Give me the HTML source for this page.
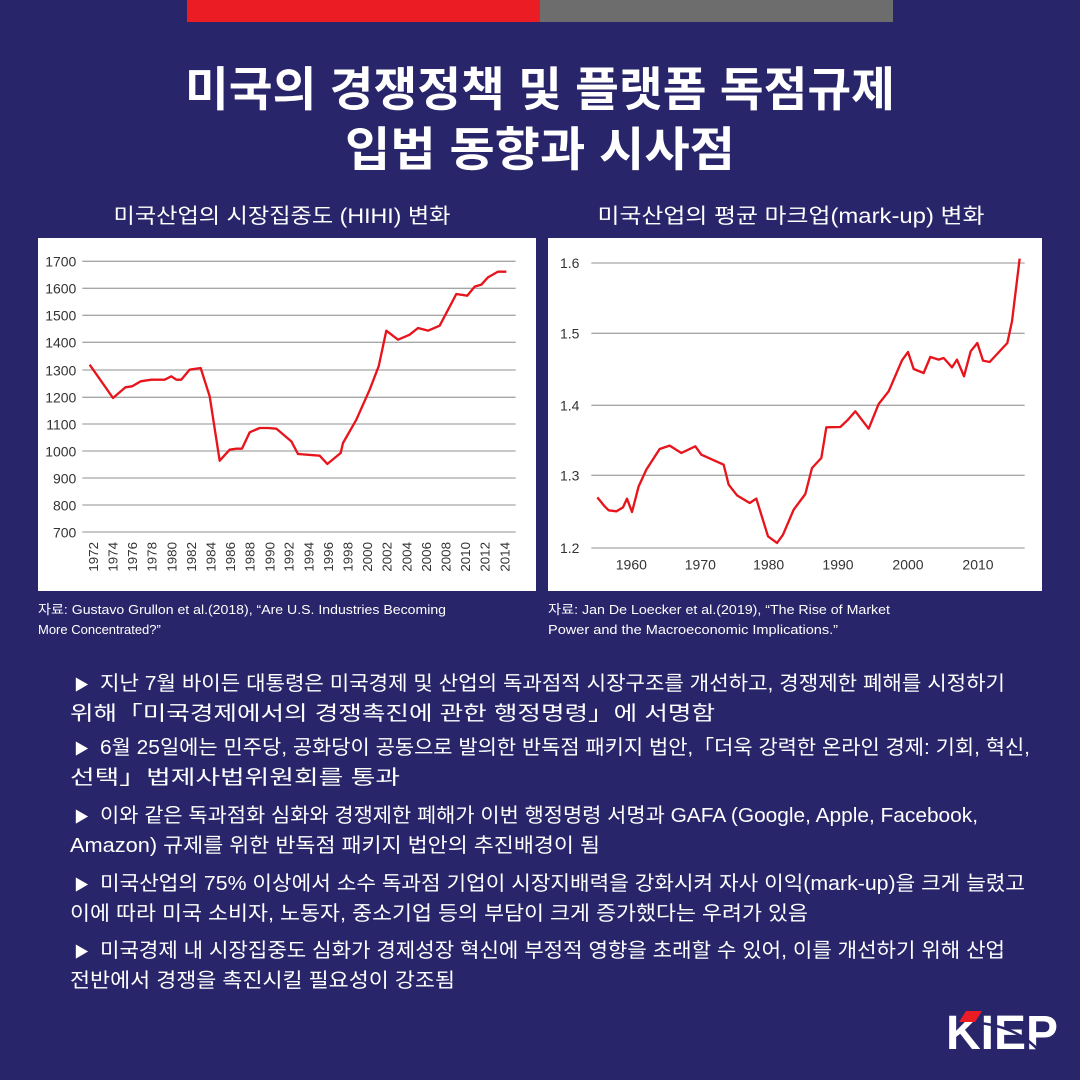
<!DOCTYPE html>
<html><head><meta charset="utf-8"><style>
html,body{margin:0;padding:0;background:#29256a;}
svg{display:block}
text{font-family:"Liberation Sans","Noto Sans CJK KR",sans-serif;}
</style></head><body>
<svg width="1080" height="1080" viewBox="0 0 1080 1080" xmlns="http://www.w3.org/2000/svg">
<rect width="1080" height="1080" fill="#29256a"/>
<rect x="187" y="0" width="353" height="22" fill="#ec1c24"/>
<rect x="540" y="0" width="353" height="22" fill="#6d6d6d"/>
<text x="540" y="106" font-size="47" font-weight="bold" fill="#fff" text-anchor="middle" textLength="710" lengthAdjust="spacingAndGlyphs">미국의 경쟁정책 및 플랫폼 독점규제</text>
<text x="540" y="166" font-size="47" font-weight="bold" fill="#fff" text-anchor="middle" textLength="390" lengthAdjust="spacingAndGlyphs">입법 동향과 시사점</text>
<text x="282" y="223" font-size="21" fill="#fff" text-anchor="middle" textLength="337" lengthAdjust="spacingAndGlyphs">미국산업의 시장집중도 (HIHI) 변화</text>
<text x="791" y="223" font-size="21" fill="#fff" text-anchor="middle" textLength="387" lengthAdjust="spacingAndGlyphs">미국산업의 평균 마크업(mark-up) 변화</text>

<!-- left chart -->
<rect x="38" y="238" width="498" height="353" fill="#fff"/>
<g transform="translate(38,238) scale(0.33333)">
<g stroke="#a6a6a6" stroke-width="4">
<line x1="133" y1="70" x2="1433" y2="70"/><line x1="133" y1="151" x2="1433" y2="151"/><line x1="133" y1="232" x2="1433" y2="232"/><line x1="133" y1="313" x2="1433" y2="313"/><line x1="133" y1="396" x2="1433" y2="396"/><line x1="133" y1="478" x2="1433" y2="478"/><line x1="133" y1="558" x2="1433" y2="558"/><line x1="133" y1="639" x2="1433" y2="639"/><line x1="133" y1="720" x2="1433" y2="720"/><line x1="133" y1="801" x2="1433" y2="801"/><line x1="133" y1="882" x2="1433" y2="882"/>
</g>
<g font-size="42" fill="#333" text-anchor="end">
<text x="115" y="86">1700</text><text x="115" y="167">1600</text><text x="115" y="248">1500</text><text x="115" y="329">1400</text><text x="115" y="412">1300</text><text x="115" y="494">1200</text><text x="115" y="574">1100</text><text x="115" y="655">1000</text><text x="115" y="736">900</text><text x="115" y="817">800</text><text x="115" y="898">700</text>
</g>
<g font-size="40" fill="#333" text-anchor="end">
<text transform="translate(180,912) rotate(-90)">1972</text>
<text transform="translate(239,912) rotate(-90)">1974</text>
<text transform="translate(297,912) rotate(-90)">1976</text>
<text transform="translate(356,912) rotate(-90)">1978</text>
<text transform="translate(415,912) rotate(-90)">1980</text>
<text transform="translate(474,912) rotate(-90)">1982</text>
<text transform="translate(532,912) rotate(-90)">1984</text>
<text transform="translate(591,912) rotate(-90)">1986</text>
<text transform="translate(650,912) rotate(-90)">1988</text>
<text transform="translate(709,912) rotate(-90)">1990</text>
<text transform="translate(767,912) rotate(-90)">1992</text>
<text transform="translate(826,912) rotate(-90)">1994</text>
<text transform="translate(885,912) rotate(-90)">1996</text>
<text transform="translate(944,912) rotate(-90)">1998</text>
<text transform="translate(1002,912) rotate(-90)">2000</text>
<text transform="translate(1061,912) rotate(-90)">2002</text>
<text transform="translate(1120,912) rotate(-90)">2004</text>
<text transform="translate(1179,912) rotate(-90)">2006</text>
<text transform="translate(1237,912) rotate(-90)">2008</text>
<text transform="translate(1296,912) rotate(-90)">2010</text>
<text transform="translate(1355,912) rotate(-90)">2012</text>
<text transform="translate(1414,912) rotate(-90)">2014</text>
</g>
<polyline fill="none" stroke="#e8141c" stroke-width="7" stroke-linejoin="round" points="155,380 225,480 262,448 282,445 308,430 340,425 380,425 400,415 415,425 430,425 455,395 488,390 515,475 545,668 575,635 595,632 612,632 635,583 665,570 690,570 715,572 760,610 780,648 845,653 868,678 908,645 915,615 955,545 995,455 1022,385 1045,278 1080,305 1115,290 1140,270 1170,278 1205,263 1255,168 1288,173 1310,146 1330,140 1350,118 1380,101 1405,101"/>
</g>

<!-- right chart -->
<rect x="548" y="238" width="494" height="353" fill="#fff"/>
<g transform="translate(548,238) scale(0.33333)">
<g stroke="#a6a6a6" stroke-width="4">
<line x1="130" y1="75" x2="1430" y2="75"/><line x1="130" y1="286" x2="1430" y2="286"/><line x1="130" y1="502" x2="1430" y2="502"/><line x1="130" y1="712" x2="1430" y2="712"/><line x1="130" y1="930" x2="1430" y2="930"/>
</g>
<g font-size="42" fill="#333">
<text x="36" y="90">1.6</text><text x="36" y="301">1.5</text><text x="36" y="517">1.4</text><text x="36" y="727">1.3</text><text x="36" y="945">1.2</text>
</g>
<g font-size="42" fill="#333" text-anchor="middle">
<text x="250" y="995">1960</text><text x="457" y="995">1970</text><text x="662" y="995">1980</text><text x="870" y="995">1990</text><text x="1080" y="995">2000</text><text x="1290" y="995">2010</text>
</g>
<polyline fill="none" stroke="#e8141c" stroke-width="7" stroke-linejoin="round" points="148,778 170,805 182,817 205,820 225,808 237,782 252,822 272,745 295,695 335,633 365,623 400,645 442,625 460,650 527,680 542,740 567,772 605,795 625,782 660,895 687,915 705,890 737,815 772,768 792,690 820,660 835,568 877,567 900,545 922,520 962,572 992,498 1022,460 1062,367 1080,342 1097,393 1127,405 1147,357 1172,365 1187,360 1212,388 1227,365 1248,415 1268,340 1288,315 1305,368 1325,372 1378,315 1392,250 1415,62"/>
</g>

<g font-size="13" fill="#fff">
<text x="38" y="614" textLength="408" lengthAdjust="spacingAndGlyphs">자료: Gustavo Grullon et al.(2018), “Are U.S. Industries Becoming</text>
<text x="38" y="634">More Concentrated?”</text>
<text x="548" y="614" textLength="342" lengthAdjust="spacingAndGlyphs">자료: Jan De Loecker et al.(2019), “The Rise of Market</text>
<text x="548" y="634" textLength="290" lengthAdjust="spacingAndGlyphs">Power and the Macroeconomic Implications.”</text>
</g>

<g font-size="20" fill="#fff">
<text x="74" y="690" font-size="15">▶</text>
<text x="100" y="690" textLength="905" lengthAdjust="spacingAndGlyphs">지난 7월 바이든 대통령은 미국경제 및 산업의 독과점적 시장구조를 개선하고, 경쟁제한 폐해를 시정하기</text>
<text x="70" y="720" textLength="645" lengthAdjust="spacingAndGlyphs">위해「미국경제에서의 경쟁촉진에 관한 행정명령」에 서명함</text>
<text x="74" y="754" font-size="15">▶</text>
<text x="100" y="754" textLength="930" lengthAdjust="spacingAndGlyphs">6월 25일에는 민주당, 공화당이 공동으로 발의한 반독점 패키지 법안,「더욱 강력한 온라인 경제: 기회, 혁신,</text>
<text x="70" y="784" textLength="330" lengthAdjust="spacingAndGlyphs">선택」법제사법위원회를 통과</text>
<text x="74" y="822" font-size="15">▶</text>
<text x="100" y="822" textLength="878" lengthAdjust="spacingAndGlyphs">이와 같은 독과점화 심화와 경쟁제한 폐해가 이번 행정명령 서명과 GAFA (Google, Apple, Facebook,</text>
<text x="70" y="852" textLength="530" lengthAdjust="spacingAndGlyphs">Amazon) 규제를 위한 반독점 패키지 법안의 추진배경이 됨</text>
<text x="74" y="890" font-size="15">▶</text>
<text x="100" y="890" textLength="925" lengthAdjust="spacingAndGlyphs">미국산업의 75% 이상에서 소수 독과점 기업이 시장지배력을 강화시켜 자사 이익(mark-up)을 크게 늘렸고</text>
<text x="70" y="920" textLength="738" lengthAdjust="spacingAndGlyphs">이에 따라 미국 소비자, 노동자, 중소기업 등의 부담이 크게 증가했다는 우려가 있음</text>
<text x="74" y="957" font-size="15">▶</text>
<text x="100" y="957" textLength="905" lengthAdjust="spacingAndGlyphs">미국경제 내 시장집중도 심화가 경제성장 혁신에 부정적 영향을 초래할 수 있어, 이를 개선하기 위해 산업</text>
<text x="70" y="987" textLength="385" lengthAdjust="spacingAndGlyphs">전반에서 경쟁을 촉진시킬 필요성이 강조됨</text>
</g>

<!-- KIEP logo -->
<g>
<text x="946" y="1049" font-size="48" font-weight="bold" fill="#fff" textLength="112" lengthAdjust="spacingAndGlyphs">KIEP</text>
<polygon points="966,1011 982,1011 975,1022 959,1022" fill="#ec1c24"/>
<path d="M980,1023 Q1020,1028 1040,1052" stroke="#29256a" stroke-width="2.5" fill="none"/>
</g>
</svg>
</body></html>
